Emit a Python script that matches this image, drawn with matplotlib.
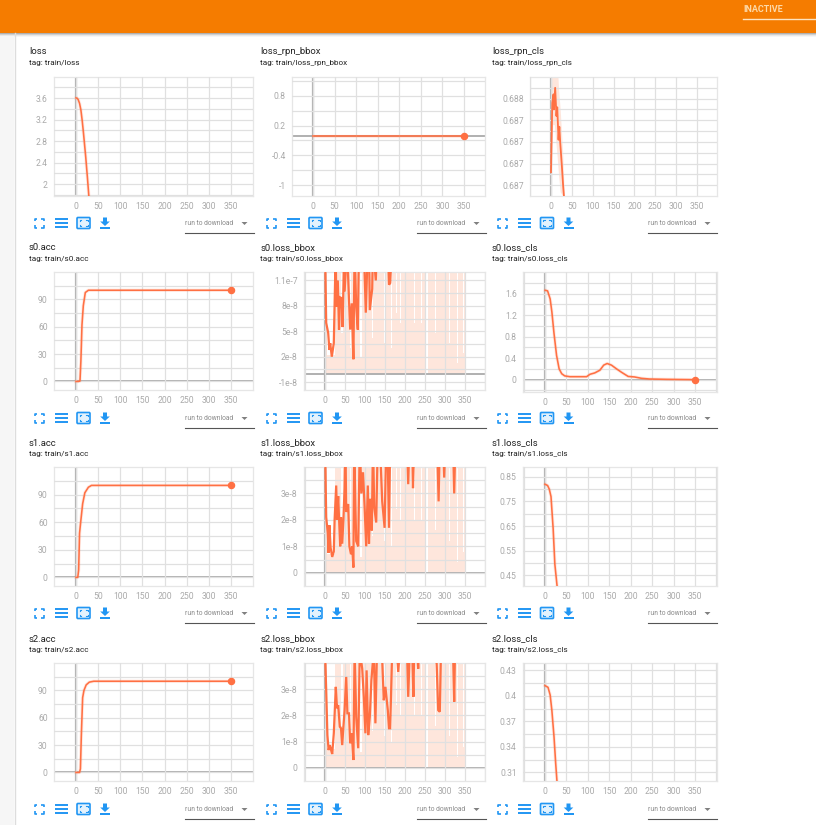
import matplotlib
matplotlib.use("Agg")
import matplotlib.pyplot as plt
from matplotlib.patches import Rectangle, FancyBboxPatch, Polygon

plt.rcParams['font.family'] = ['Roboto', 'DejaVu Sans']

W, H = 816, 825
ORANGE = '#f57c00'
LINE = '#ff7043'
BAND = '#fee6dc'
GRID = '#e0e0e0'
AXISC = '#b0b0b0'
BLUE = '#2196f3'

X_TICKS = [0, 50, 100, 150, 200, 250, 300, 350]

LOSS_X = [0, 2, 5, 8, 11, 14, 17, 22, 26, 29, 32]
LOSS_Y = [3.6, 3.6, 3.57, 3.5, 3.38, 3.18, 2.94, 2.5, 2.1, 1.78, 1.5]

RPN_BBOX_X = [0, 350]
RPN_BBOX_Y = [0, 0]

RPN_CLS_X = [0, 2, 3, 6, 7, 10, 13, 15, 18, 20, 22, 26, 29, 31]
RPN_CLS_Y = [.68716, .68737, .68748, .68752, .68745, .68755, .68742, .68746, .68731, .68737, .68730, .68719, .68710, .68705]
RPN_RAW_X = [0, 2, 4, 8, 14, 18, 22, 28, 32]
RPN_RAW_LO = [.68715, .68730, .68738, .68738, .68725, .68715, .68707, .68705, .68705]
RPN_RAW_HI = [.68725, .68760, .68780, .68780, .68770, .68755, .68745, .68725, .68705]

S0_ACC_X = [0, 6, 9, 11, 13.5, 16.5, 21, 28, 350]
S0_ACC_Y = [0, 0, 0.5, 22, 62, 83, 97.5, 100, 100]
S1_ACC_X = [0, 4, 6, 8, 11, 15, 20, 28, 35, 350]
S1_ACC_Y = [0, 0, 8, 48, 62, 80, 92, 98, 100, 100]
S2_ACC_X = [0, 8, 10, 12, 15, 18, 23, 30, 40, 350]
S2_ACC_Y = [0, 0, 4, 40, 82, 90, 96, 99, 100, 100]

S0_BBOX_X = [0, 3, 8, 11, 13, 17, 22, 27, 28, 32, 35, 38, 42, 44, 48, 49, 55, 60, 63, 67, 71, 74, 78, 82, 85, 97, 102, 107, 110, 112, 118, 120, 127, 130, 157, 160, 163, 167, 350]
S0_BBOX_Y = [15, 6, 4.8, 2.8, 3.6, 2.0, 3.6, 15, 7.9, 11, 5.2, 9, 8.9, 5.5, 15, 9.7, 15, 8.7, 5.2, 8.3, 1.7, 15, 7.9, 5.2, 15, 15, 7.2, 15, 15, 7.5, 10, 15, 11, 15, 15, 10.5, 10.7, 15, 15]

S1_BBOX_X = [0, 3, 7, 9, 11, 14, 18, 22, 24, 28, 30, 33, 35, 38, 40, 43, 46, 49, 51, 53, 58, 61, 65, 68, 71, 73, 76, 78, 83, 87, 91, 95, 99, 103, 107, 110, 113, 117, 120, 123, 128, 132, 137, 143, 149, 153, 156, 160, 163, 167, 205, 208, 211, 218, 220, 223, 280, 284, 287, 295, 298, 301, 320, 323, 326, 350]
S1_BBOX_Y = [5, 2.1, 1.5, 0.75, 1.8, 0.95, 0.6, 0.8, 2.0, 3.3, 2.0, 2.9, 2.1, 1.0, 2.1, 1.1, 2.0, 3.2, 5, 2.3, 2.6, 1.0, 0.7, 1.0, 0.2, 5, 2.5, 1.2, 1.0, 5, 3.0, 3.8, 2.5, 1.0, 3.3, 1.1, 2.8, 1.6, 5, 2.5, 1.9, 5, 5, 2.7, 1.7, 5, 5, 1.7, 5, 5, 5, 3.35, 5, 5, 3.2, 5, 5, 2.7, 5, 5, 3.6, 5, 5, 3.0, 5, 5]

S2_BBOX_X = [0, 3, 6, 9, 12, 14, 18, 22, 27, 30, 33, 37, 40, 43, 46, 49, 53, 56, 60, 63, 67, 71, 74, 78, 83, 87, 93, 97, 101, 104, 108, 112, 116, 122, 126, 130, 142, 147, 151, 157, 160, 163, 168, 180, 183, 187, 205, 208, 212, 218, 221, 223, 230, 233, 235, 278, 283, 287, 290, 297, 320, 323, 325, 351]
S2_BBOX_Y = [4.5, 2.96, 1.25, .68, .87, .75, .53, 1.32, 3.09, 2.27, 2.39, 1.57, 1.51, .87, 1.57, 2.2, 3.47, 2.08, 2.08, .94, 1.32, .3, 4.5, 1.95, .75, 4.5, 3.78, 2.71, 1.32, 3.72, 1.25, 1.95, 3.34, 4.5, 1.7, 4.5, 4.5, 2.58, 3.09, 2.2, 1.51, 1.51, 4.5, 4.5, 3.66, 4.5, 4.5, 2.71, 4.5, 4.5, 2.71, 4.5, 4.5, 3.78, 4.5, 4.5, 2.2, 2.14, 4.5, 4.5, 4.5, 2.52, 4.5, 4.5]

S0_CLS_X = [0.5, 6, 12, 16, 21, 27, 33, 39, 46, 58, 81, 97, 105, 116, 128, 137, 145, 155, 167, 178, 194, 209, 225, 244, 283, 349]
S0_CLS_Y = [1.66, 1.65, 1.5, 1.26, .86, .45, .2, .11, .07, .055, .055, .055, .1, .125, .175, .27, .3, .27, .2, .14, .06, .05, .025, .012, .006, 0]

S1_CLS_X = [0, 6, 10, 14, 19, 23, 28, 31]
S1_CLS_Y = [.82, .815, .80, .77, .64, .495, .41, .35]

S2_CLS_X = [0, 7, 12, 16, 21, 25, 28, 31]
S2_CLS_Y = [.412, .41, .401, .383, .352, .32, .299, .28]

GAP_FROM = [4, 40, 62, 88, 118, 148, 165, 178, 187, 199, 222, 240, 250, 275, 300, 311, 329, 346]
GAP_TO = [24, 44, 66, 92, 121, 150, 167, 180, 190, 201, 224, 242, 257, 277, 302, 313, 332, 348]
GAP_KEEP = [.18, .4, .25, .15, .35, .3, .25, .6, .5, .3, .5, .5, 0, .4, .5, .3, .1, .2]

fig = plt.figure(figsize=(W / 100, H / 100), dpi=100, facecolor='white')
bg = fig.add_axes([0, 0, 1, 1])
bg.set_xlim(0, W)
bg.set_ylim(H, 0)
bg.axis('off')

bg.add_patch(Rectangle((0, 33), 14, H - 33, fc='#f6f6f6', ec='none'))
bg.plot([14.5, 14.5], [33, H], color='#dddddd', lw=1)
bg.add_patch(Rectangle((0, 0), W, 32.5, fc=ORANGE, ec='none'))
for i, c in enumerate(['#b0b0b0', '#d0d0d0', '#e8e8e8', '#f6f6f6']):
    bg.add_patch(Rectangle((0, 32.5 + i), W, 1, fc=c, ec='none'))
bg.text(743, 10, 'INACTIVE', color='#fdd9a8', fontsize=6.5, fontweight='bold', va='center', ha='left')
bg.plot([743, W], [18.5, 18.5], color='#fde3c0', lw=1)


def icons(x0, xdl, y):
    # fullscreen
    cx = x0
    for sx in (-1, 1):
        for sy in (-1, 1):
            bg.plot([cx + sx * 4.5, cx + sx * 4.5, cx + sx * 2], [y + sy * 2, y + sy * 4.5, y + sy * 4.5],
                    color=BLUE, lw=1.2, solid_capstyle='butt')
    # list
    cx = x0 + 22
    for dy in (-4, 0, 4):
        bg.plot([cx - 6.5, cx + 6.5], [y + dy, y + dy], color=BLUE, lw=1.4, solid_capstyle='butt')
    # fit domain
    cx = x0 + 44.5
    bg.add_patch(FancyBboxPatch((cx - 6.5, y - 5.5), 13, 11, boxstyle='round,pad=0,rounding_size=1',
                                fc='#e3f2fd', ec=BLUE, lw=1.2))
    for sx in (-1, 1):
        for sy in (-1, 1):
            bg.plot([cx + sx * 4, cx + sx * 4, cx + sx * 2.2], [y + sy * 1.6, y + sy * 3.2, y + sy * 3.2],
                    color=BLUE, lw=0.8)
    # download
    cx = x0 + 66
    bg.add_patch(Polygon([(cx - 2, y - 5.5), (cx + 2, y - 5.5), (cx + 2, y - 1.5), (cx + 4.8, y - 1.5),
                          (cx, y + 3), (cx - 4.8, y - 1.5), (cx - 2, y - 1.5)], fc=BLUE, ec='none'))
    bg.add_patch(Rectangle((cx - 5, y + 4), 10, 1.5, fc=BLUE, ec='none'))
    # run to download
    bg.text(xdl, y + 0.5, 'run to download', fontsize=4.9, color='#8a8a8a', va='center', ha='left')
    bg.add_patch(Polygon([(xdl + 56.5, y - 1), (xdl + 62.5, y - 1), (xdl + 59.5, y + 2)], fc='#808080', ec='none'))
    bg.plot([xdl, xdl + 68.5], [y + 9.5, y + 9.5], color='#555555', lw=0.8)


def panel(box, x0px, x350px, ylim, yticks, yminor, title, tag, tx, ty, ylabels=None):
    l, t, r, b = box
    ax = fig.add_axes([l / W, 1 - b / H, (r - l) / W, (b - t) / H])
    ax.patch.set_alpha(0)
    k = (x350px - x0px) / 350
    ax.set_xticks(X_TICKS)
    ax.set_xticks([-50, 400], minor=True)
    ax.set_yticks(yticks)
    if ylabels:
        ax.set_yticklabels(ylabels)
    else:
        ax.set_yticklabels([str(v) for v in yticks])
    ax.set_yticks(yminor, minor=True)
    ax.set_xlim((l - x0px) / k, (r - x0px) / k)
    ax.set_ylim(*ylim)
    ax.grid(True, which='both', color=GRID, lw=0.9, zorder=2)
    ax.set_axisbelow(False)
    ax.tick_params(which='both', length=0)
    ax.tick_params(axis='both', labelsize=6.2, labelcolor='#aaaaaa')
    ax.tick_params(axis='y', pad=4.5)
    ax.tick_params(axis='x', pad=4.5)
    for s in ax.spines.values():
        s.set_color('#e6e6e6')
        s.set_linewidth(0.9)
    ax.axvline(0, color=AXISC, lw=1.6, zorder=2.5)
    if ylim[0] < 0 < ylim[1]:
        ax.axhline(0, color=AXISC, lw=1.4, zorder=2.5)
    bg.text(tx, ty, title, fontsize=6.8, color='#212121', va='center', ha='left')
    bg.text(tx, ty + 11, tag, fontsize=5.9, color='#212121', va='center', ha='left')
    return ax


def curve(ax, x, y, end=False):
    ax.plot(x, y, color=LINE, lw=2.4, alpha=0.15, zorder=2.8, solid_joinstyle='round')
    ax.plot(x, y, color=LINE, lw=1.15, zorder=3, solid_joinstyle='round')
    if end:
        ax.plot([x[-1]], [y[-1]], 'o', ms=4.4, color=LINE, zorder=4, clip_on=False)


def bbox_curve(ax, x, y, top):
    ax.fill_between([2, 352], [0, 0], [top, top], color=BAND, lw=0, zorder=1)
    for a, b, keep in zip(GAP_FROM, GAP_TO, GAP_KEEP):
        ax.fill_between([a, b], [keep * top, keep * top], [top, top], color='white', lw=0, zorder=1.2)
    ax.plot(x, y, color=LINE, lw=1.6, zorder=3, solid_joinstyle='miter')


# row 1
ax = panel((54, 77, 253, 196), 76, 231, (1.78, 3.99), [2, 2.4, 2.8, 3.2, 3.6], [1.8, 2.2, 2.6, 3.0, 3.4, 3.8],
           'loss', 'tag: train/loss', 29, 52)
curve(ax, LOSS_X, LOSS_Y)
ax = panel((292, 77, 485, 196), 313, 464, (-1.22, 1.18), [-1, -0.4, 0.2, 0.8], [-1.3, -0.7, -0.1, 0.5, 1.1],
           'loss_rpn_bbox', 'tag: train/loss_rpn_bbox', 260.5, 52)
curve(ax, RPN_BBOX_X, RPN_BBOX_Y, end=True)
ax = panel((530, 77, 717, 196), 551, 697, (.68705, .6876),
           [.6871, .6872, .6873, .6874, .6875], [.68715, .68725, .68735, .68745, .68755],
           'loss_rpn_cls', 'tag: train/loss_rpn_cls', 492, 52,
           ylabels=['0.687', '0.687', '0.687', '0.687', '0.688'])
ax.fill_between(RPN_RAW_X, RPN_RAW_LO, RPN_RAW_HI, color=BAND, lw=0, zorder=1)
ax.plot(RPN_CLS_X, RPN_CLS_Y, color=LINE, lw=1.3, zorder=3)
icons(39, 185, 223)
icons(271, 417, 223)
icons(502.5, 648, 223)

# row 2
ax = panel((54, 272, 253, 390), 76, 231, (-9.4, 120), [0, 30, 60, 90], [-15, 15, 45, 75, 105],
           's0.acc', 'tag: train/s0.acc', 29, 248)
curve(ax, S0_ACC_X, S0_ACC_Y, end=True)
ax = panel((304, 272, 485, 390), 325, 465, (-1.93e-8, 1.2e-7), [-1e-8, 2e-8, 5e-8, 8e-8, 1.1e-7],
           [0.5e-8, 3.5e-8, 6.5e-8, 9.5e-8],
           's0.loss_bbox', 'tag: train/s0.loss_bbox', 260.5, 248,
           ylabels=['-1e-8', '2e-8', '5e-8', '8e-8', '1.1e-7'])
bbox_curve(ax, S0_BBOX_X, [v * 1e-8 for v in S0_BBOX_Y], 1.2e-7)
ax = panel((523, 272, 717, 391.5), 545, 695, (-0.22, 2.0), [0, 0.4, 0.8, 1.2, 1.6], [-0.2, 0.2, 0.6, 1.0, 1.4, 1.8],
           's0.loss_cls', 'tag: train/s0.loss_cls', 492, 248)
curve(ax, S0_CLS_X, S0_CLS_Y, end=True)
icons(39, 185, 418)
icons(271, 417, 418)
icons(502.5, 648, 418)

# row 3
ax = panel((54, 467, 253, 586), 76, 231, (-9.4, 120), [0, 30, 60, 90], [-15, 15, 45, 75, 105],
           's1.acc', 'tag: train/s1.acc', 29, 443)
curve(ax, S1_ACC_X, S1_ACC_Y, end=True)
ax = panel((304, 467, 485, 586), 325, 465, (-0.5e-8, 4e-8), [0, 1e-8, 2e-8, 3e-8], [0.5e-8, 1.5e-8, 2.5e-8, 3.5e-8],
           's1.loss_bbox', 'tag: train/s1.loss_bbox', 260.5, 443,
           ylabels=['0', '1e-8', '2e-8', '3e-8'])
bbox_curve(ax, S1_BBOX_X, [v * 1e-8 for v in S1_BBOX_Y], 4e-8)
ax = panel((523, 467, 717, 586), 545, 695, (.407, .89), [.45, .55, .65, .75, .85], [.5, .6, .7, .8],
           's1.loss_cls', 'tag: train/s1.loss_cls', 492, 443)
curve(ax, S1_CLS_X, S1_CLS_Y)
icons(39, 185, 613)
icons(271, 417, 613)
icons(502.5, 648, 613)

# row 4
ax = panel((54, 663, 253, 781), 76, 231, (-9.4, 120), [0, 30, 60, 90], [-15, 15, 45, 75, 105],
           's2.acc', 'tag: train/s2.acc', 29, 639)
curve(ax, S2_ACC_X, S2_ACC_Y, end=True)
ax = panel((304, 663, 485, 781), 325, 465, (-0.5e-8, 4e-8), [0, 1e-8, 2e-8, 3e-8], [0.5e-8, 1.5e-8, 2.5e-8, 3.5e-8],
           's2.loss_bbox', 'tag: train/s2.loss_bbox', 260.5, 639,
           ylabels=['0', '1e-8', '2e-8', '3e-8'])
bbox_curve(ax, S2_BBOX_X, [v * 1e-8 for v in S2_BBOX_Y], 4e-8)
ax = panel((523, 663, 717, 781), 545, 695, (.2998, .4386), [.31, .34, .37, .4, .43], [.325, .355, .385, .415],
           's2.loss_cls', 'tag: train/s2.loss_cls', 492, 639)
curve(ax, S2_CLS_X, S2_CLS_Y)
icons(39, 185, 809)
icons(271, 417, 809)
icons(502.5, 648, 809)

fig.savefig('out.png', dpi=100)
